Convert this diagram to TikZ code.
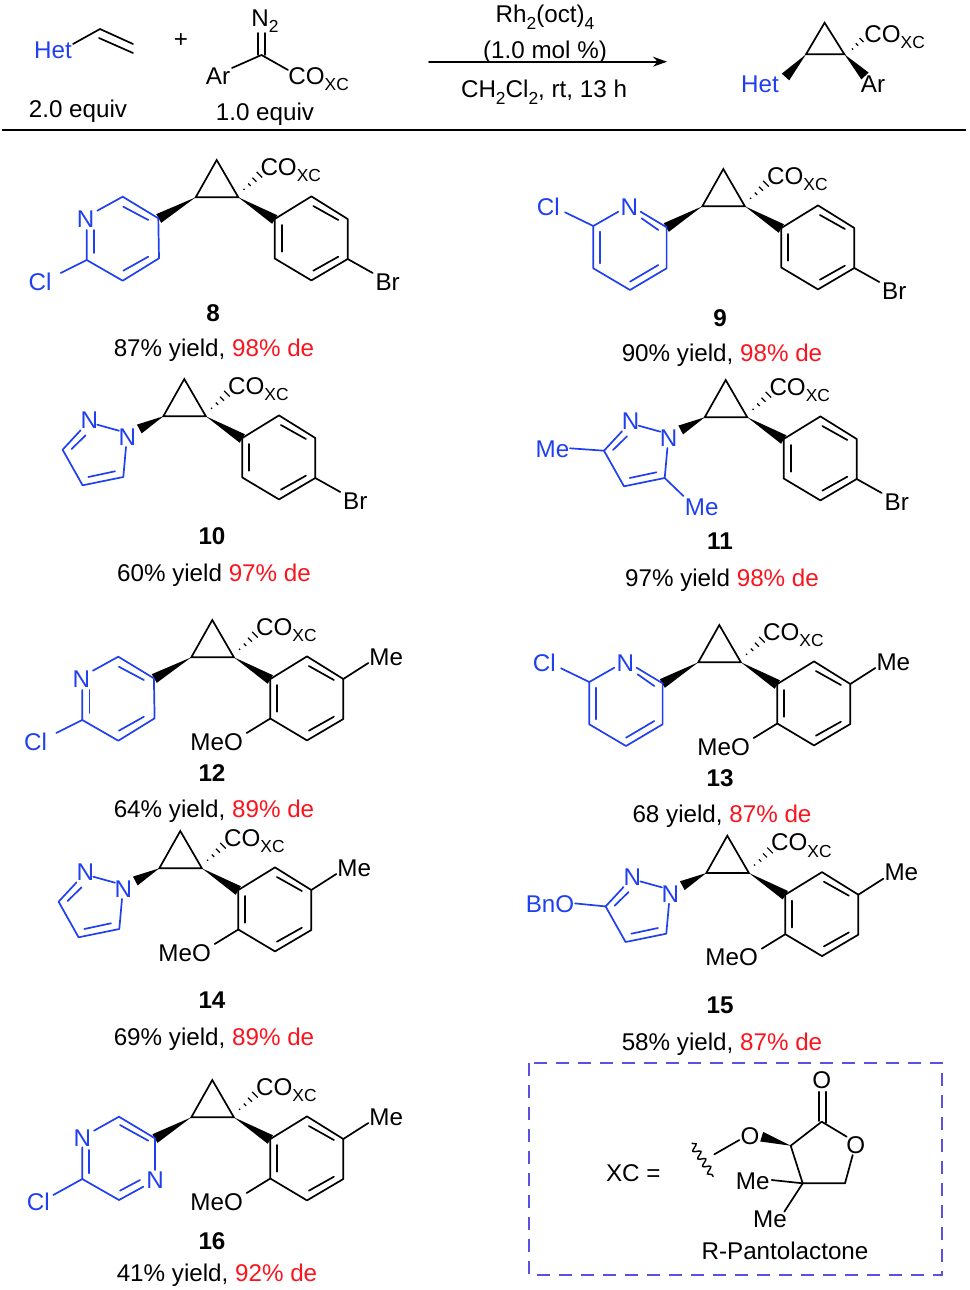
\documentclass[tikz,border=0pt]{standalone}
\usepackage{fontspec}
\setmainfont{Liberation Sans}
\usetikzlibrary{calc,arrows.meta,decorations.pathmorphing}
\definecolor{hetblue}{RGB}{32,64,240}
\definecolor{boxblue}{RGB}{90,80,225}
\definecolor{dered}{RGB}{250,20,30}
\newcommand{\lsub}[1]{\raisebox{-3.3pt}{\fontsize{8.7}{10}\selectfont #1}}
\newcommand{\wedgeb}[2]{\fill (#1) -- ($(#2)!2.5pt!90:(#1)$) -- ($(#2)!2.5pt!-90:(#1)$) -- cycle;}
% cyclopropane with its aryl wedge, hashed bond and ester
\newcommand{\cpcore}{
	\draw [bond, line join=miter] (-21,37.3) -- (0,0) -- (21.6,37.3) -- cycle;
	\wedgeb{21.6,37.3}{58,59.5}
	\foreach \hx/\hy/\hl in {27.3/29.3/0.5, 32.7/24.7/1.2, 37.7/19.7/2, 42.7/14.7/2.8}
		\draw [hashb] (\hx-\hl,\hy-\hl) -- (\hx+\hl,\hy+\hl);
	\node [txt, anchor=base west] (co) at (43.4,15) {CO\lsub{XC}};
}
\newcommand{\arring}{
	\draw [bond] (58,59) -- (94.7,36.4) -- (131,59) -- (131,99) -- (94.7,120.4) -- (58,98.5) -- cycle;
	\draw [bond] (65,65) -- (65,91.7);
	\draw [bond] (96.6,46) -- (121.6,60);
	\draw [bond] (96.6,110.7) -- (121.6,96.7);
}
\newcommand{\brgroup}{
	\arring
	\draw [bond] (131,99) -- (156,113);
	\node [txt] (br) at (171,121.7) {Br};
}
\newcommand{\megroup}{
	\arring
	\draw [bond] (131,59) -- (156,43);
	\node [txt] (me) at (174,37) {Me};
	\draw [bond] (58,98.5) -- (34.4,113);
	\node [txt] (meo) at (4.4,121.7) {MeO};
}
\newcommand{\pyrthree}{
	\wedgeb{-21,37.3}{-58,58.5}
	\draw [hbond] (-119.4,50.7) -- (-94,36.7) -- (-58.4,58.3) -- (-57.7,98.3) -- (-94,120.7) -- (-130,100) -- (-130,70);
	\draw [hbond] (-93.4,46.7) -- (-68.4,60);
	\draw [hbond] (-122.7,70) -- (-122.7,93);
	\draw [hbond] (-93.4,110.7) -- (-68.4,96.7);
	\draw [hbond] (-130,100) -- (-156,113);
	\node [htxt] (n) at (-131,59) {N};
	\node [htxt] (cl) at (-176.7,121.7) {Cl};
}
\newcommand{\pyrtwo}{
	\wedgeb{-21,37.3}{-57,58.5}
	\draw [hbond] (-82.7,42.7) -- (-56.7,58.3) -- (-56.7,99.3) -- (-93.3,121) -- (-130,99.3) -- (-130,57) -- (-105,42.7);
	\draw [hbond] (-81.7,49.3) -- (-65,61);
	\draw [hbond] (-123.3,62.7) -- (-123.3,94.3);
	\draw [hbond] (-93.3,112.7) -- (-65,96);
	\draw [hbond] (-130,57) -- (-158.3,43.3);
	\node [htxt] (n) at (-94,37.7) {N};
	\node [htxt] (cl) at (-175,37.7) {Cl};
}
\newcommand{\pyrazol}{
	\wedgeb{-21,37.3}{-45,50}
	\draw [hbond] (-65.3,51.7) -- (-87,45.7);
	\draw [hbond] (-103.7,51.3) -- (-121.7,70.7) -- (-101.7,106.3) -- (-61,98) -- (-58.3,68);
	\draw [hbond] (-98.7,56.3) -- (-112.7,70);
	\draw [hbond] (-96,98) -- (-69.3,92.3);
	\node [htxt] (nb) at (-57,58.3) {N};
	\node [htxt] (na) at (-95,41.5) {N};
}
\newcommand{\pyrazin}{
	\wedgeb{-21,37.3}{-57.3,58.5}
	\draw [hbond] (-118.3,50.7) -- (-93.3,36.7) -- (-57.3,58.3) -- (-57.3,90);
	\draw [hbond] (-69,106.7) -- (-93.3,120) -- (-130,99) -- (-130,67.3);
	\draw [hbond] (-92.3,45) -- (-64,60.7);
	\draw [hbond] (-123,70) -- (-123,93.3);
	\draw [hbond] (-92.3,110.7) -- (-72.3,100);
	\draw [hbond] (-130,99) -- (-159,115);
	\node [htxt] (na) at (-130,58.3) {N};
	\node [htxt] (nb) at (-57.3,100) {N};
	\node [htxt] (cl) at (-174,121.7) {Cl};
}
\tikzset{
	bond/.style={line width=0.85pt, line cap=round, line join=round},
	hbond/.style={bond, hetblue},
	hashb/.style={line width=0.6pt},
	txt/.style={inner sep=0pt, font=\fontsize{12.1}{14}\selectfont},
	ytxt/.style={txt, yshift=-1.2pt},
	htxt/.style={txt, text=hetblue},
	num/.style={txt, font=\fontsize{12.1}{14}\selectfont\bfseries},
}
\begin{document}
\begin{tikzpicture}[x=0.5pt, y=-0.5pt]
	\useasboundingbox (0,0) rectangle (969,1290);

	% scheme at the top
	\node [htxt] (het) at (53,50) {Het};
	\draw [bond] (73,44) -- (100,29) -- (133,44);
	\draw [bond] (99,38) -- (133,53);
	\node [txt] (plus) at (181,41) {+};
	\node [txt, anchor=base] (ntwo) at (265,26) {N\lsub{2}};
	\draw [bond] (258,33) -- (258,55);
	\draw [bond] (265,33) -- (265,55);
	\draw [bond] (232,68) -- (261.5,55) -- (288,70);
	\node [txt] (ar) at (218,76) {Ar};
	\node [txt, anchor=base west] (ester) at (288,84) {CO\lsub{XC}};
	\node [ytxt] (eqa) at (78,109) {2.0 equiv};
	\node [ytxt] (eqb) at (265,112) {1.0 equiv};
	\node [ytxt] (cat) at (545,15) {Rh\lsub{2}(oct)\lsub{4}};
	\node [ytxt] (load) at (545,50) {(1.0 mol \%)};
	\node [ytxt] (cond) at (544,90) {CH\lsub{2}Cl\lsub{2}, rt, 13 h};
	\coordinate (arra) at (429,61.7);
	\coordinate (arrb) at (667,61.7);
	\draw [bond, -{Stealth[length=7pt,width=5pt]}] (arra) -- (arrb);

	\draw [bond, line join=miter] (806,54.3) -- (824.6,22.7) -- (844.4,54.3) -- cycle;
	\wedgeb{806,54.3}{785.5,77}
	\wedgeb{844.4,54.3}{865,76}
	\foreach \hx/\hy/\hl in {852.5/49/0.6, 857/44.5/1.2, 861.5/40/2}
		\draw [hashb] (\hx-\hl,\hy-\hl) -- (\hx+\hl,\hy+\hl);
	\node [txt, anchor=base west] (prodco) at (864,42) {CO\lsub{XC}};
	\node [htxt] (prodhet) at (760,84) {Het};
	\node [txt] (prodar) at (873,84) {Ar};

	\coordinate (rulea) at (2,130);
	\coordinate (ruleb) at (966,130);
	\draw [line width=0.75pt] (rulea) -- (ruleb);

	% compounds
	\begin{scope}[shift={(216.7,160)}, name prefix=c8-]
		\pyrthree \cpcore \brgroup
	\end{scope}
	\begin{scope}[shift={(723.3,169)}, name prefix=c9-]
		\pyrtwo \cpcore \brgroup
	\end{scope}
	\begin{scope}[shift={(184.3,379)}, name prefix=c10-]
		\pyrazol \cpcore \brgroup
	\end{scope}
	\begin{scope}[shift={(725.7,380)}, name prefix=c11-]
		\pyrazol \cpcore \brgroup
		\draw [hbond] (-121.7,70.7) -- (-155.7,68.3);
		\draw [hbond] (-61,98) -- (-42.3,116);
		\node [htxt] (mea) at (-173.3,69) {Me};
		\node [htxt] (meb) at (-24,127.7) {Me};
	\end{scope}
	\begin{scope}[shift={(212.3,620)}, name prefix=c12-]
		\pyrthree \cpcore \megroup
	\end{scope}
	\begin{scope}[shift={(719.3,625)}, name prefix=c13-]
		\pyrtwo \cpcore \megroup
	\end{scope}
	\begin{scope}[shift={(180.3,831)}, name prefix=c14-]
		\pyrazol \cpcore \megroup
	\end{scope}
	\begin{scope}[shift={(727.3,835.7)}, name prefix=c15-]
		\pyrazol \cpcore \megroup
		\draw [hbond] (-121.7,70.7) -- (-152.3,67.7);
		\node [htxt] (bno) at (-177.3,68.3) {BnO};
	\end{scope}
	\begin{scope}[shift={(212.3,1080)}, name prefix=c16-]
		\pyrazin \cpcore \megroup
	\end{scope}

	% numbers and yields
	\node [num] (numa) at (213,313) {8};
	\node [ytxt] (ylda) at (214,348) {87\% yield, \textcolor{dered}{98\% de}};
	\node [num] (numb) at (720,318) {9};
	\node [ytxt] (yldb) at (722,353) {90\% yield, \textcolor{dered}{98\% de}};
	\node [num] (numc) at (212,536) {10};
	\node [ytxt] (yldc) at (214,573) {60\% yield \textcolor{dered}{97\% de}};
	\node [num] (numd) at (720,541) {11};
	\node [ytxt] (yldd) at (722,578) {97\% yield \textcolor{dered}{98\% de}};
	\node [num] (nume) at (212,773) {12};
	\node [ytxt] (ylde) at (214,809) {64\% yield, \textcolor{dered}{89\% de}};
	\node [num] (numf) at (720,778) {13};
	\node [ytxt] (yldf) at (722,814) {68 yield, \textcolor{dered}{87\% de}};
	\node [num] (numg) at (212,1000) {14};
	\node [ytxt] (yldg) at (214,1037) {69\% yield, \textcolor{dered}{89\% de}};
	\node [num] (numh) at (720,1005) {15};
	\node [ytxt] (yldh) at (722,1042) {58\% yield, \textcolor{dered}{87\% de}};
	\node [num] (numi) at (212,1241) {16};
	\node [ytxt] (yldi) at (217,1273) {41\% yield, \textcolor{dered}{92\% de}};

	% auxiliary box
	\draw [boxblue, line width=0.85pt, dash pattern=on 6.5pt off 4.5pt] (529.3,1063) rectangle (942.3,1275);
	\node [txt] (xc) at (633.3,1173) {XC =};
	\draw [line width=0.7pt, decorate, decoration={snake, segment length=4.5pt, amplitude=1.7pt}] (691.7,1143.3) -- (713.3,1176.7);
	\draw [bond] (714.3,1154.3) -- (739.3,1140);
	\node [txt] (oa) at (750,1135.7) {O};
	\wedgeb{790.7,1145.7}{761.7,1136.7}
	\draw [bond] (790.7,1145.7) -- (821.7,1121.7) -- (846.7,1136.7);
	\draw [bond] (819,1091.7) -- (819,1121);
	\draw [bond] (825.7,1091.7) -- (825.7,1123);
	\node [txt] (ob) at (821.7,1080) {O};
	\node [txt] (oc) at (855.7,1145) {O};
	\draw [bond] (852.7,1155) -- (845,1183.3) -- (802.7,1183.3) -- (790.7,1145.7);
	\draw [bond] (802.7,1183.3) -- (771.7,1180);
	\draw [bond] (802.7,1183.3) -- (784.3,1211.7);
	\node [txt] (mec) at (752.7,1181) {Me};
	\node [txt] (med) at (770,1219) {Me};
	\node [txt] (lact) at (785,1250.7) {R-Pantolactone};
\end{tikzpicture}
\end{document}
